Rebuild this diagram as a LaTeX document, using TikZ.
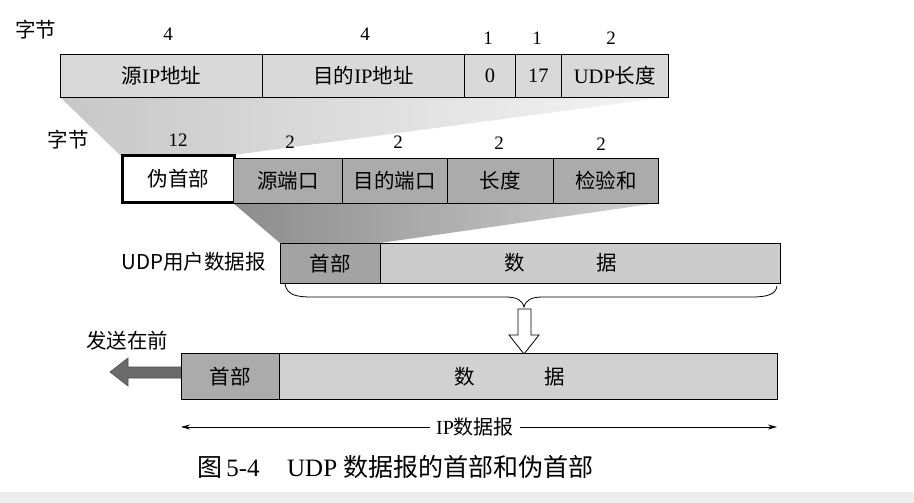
\documentclass[tikz,border=0pt]{standalone}
\usepackage{fontspec}
\setmainfont{Liberation Serif}
\newfontfamily\cjk{Noto Sans CJK SC}
\usetikzlibrary{arrows.meta}
\begin{document}
\begin{tikzpicture}[x=1pt,y=-1pt,
  field/.style={draw, line width=0.8pt, inner sep=0pt, anchor=north west,
    font=\fontsize{20.5}{23}\selectfont},
  lab/.style={inner sep=0pt, font=\fontsize{20.5}{23}\selectfont\cjk},
  num/.style={inner sep=0pt, font=\fontsize{19}{21}\selectfont},
  lite/.style={fill=black!15},
  mid/.style={fill=black!33},
]
\useasboundingbox (0,0) rectangle (914,503);
\fill[white] (0,0) rectangle (914,503);
\fill[black!7] (0,492) rectangle (914,503);

% expansion shadings
\shade[left color=black!22, right color=black!4] (60,97) -- (668,97) -- (233,155) -- (120,155) -- cycle;
\shade[left color=black!45, right color=black!18] (233,203) -- (658,203) -- (380,243) -- (280,243) -- cycle;

% row 1: pseudo header contents
\node[lab] (b1) at (36,30) {字节};
\node[num] (n1) at (168,34) {4};
\node[num] (n2) at (365,34) {4};
\node[num] (n3) at (488,38) {1};
\node[num] (n4) at (537,38) {1};
\node[num] (n5) at (611,38) {2};
\node[field, lite, minimum width=202, minimum height=43] (srcip) at (60,54) {{\cjk 源}IP{\cjk 地址}};
\node[field, lite, minimum width=202, minimum height=43] (dstip) at (262,54) {{\cjk 目的}IP{\cjk 地址}};
\node[field, lite, minimum width=51, minimum height=43] (zero) at (464,54) {0};
\node[field, lite, minimum width=46, minimum height=43] (proto) at (515,54) {17};
\node[field, lite, minimum width=107, minimum height=43] (udplen) at (561,54) {UDP{\cjk 长度}};

% row 2: UDP header with pseudo header
\node[lab] (b2) at (68,140) {字节};
\node[num] (m1) at (178,140) {12};
\node[num] (m2) at (290,142) {2};
\node[num] (m3) at (398,142) {2};
\node[num] (m4) at (499,143) {2};
\node[num] (m5) at (601,144) {2};
\node[field, fill=white, line width=2.6pt, minimum width=112, minimum height=47] (pseudo) at (121,154) {\cjk 伪首部};
\node[field, mid, minimum width=109, minimum height=45] (srcport) at (233,158) {\cjk 源端口};
\node[field, mid, minimum width=105, minimum height=45] (dstport) at (342,158) {\cjk 目的端口};
\node[field, mid, minimum width=106, minimum height=45] (len) at (447,158) {\cjk 长度};
\node[field, mid, minimum width=105, minimum height=45] (chk) at (553,158) {\cjk 检验和};

% row 3: UDP datagram
\node[lab, anchor=east] (udpname) at (266,262) {UDP用户数据报};
\node[field, fill=black!36, minimum width=100, minimum height=40] (uh) at (280,243) {\cjk 首部};
\node[field, fill=black!20, minimum width=400, minimum height=40] (ud) at (380,243) {};
\node[lab] (ud1) at (515,263) {数};
\node[lab] (ud2) at (607,263) {据};

% brace
\coordinate (bl) at (285,284);
\coordinate (br) at (777,286);
\coordinate (tip) at (524,307);
\draw[line width=0.8pt] (bl) .. controls (287,295) and (296,297) .. (312,297) -- (505,297)
  .. controls (517,297) and (522,300) .. (tip)
  .. controls (526,300) and (531,297) .. (543,297) -- (752,297)
  .. controls (768,297) and (776,294) .. (br);

% hollow arrow
\draw[fill=white, line width=0.8pt] (518,309) -- (531,309) -- (531,335) -- (539,335) -- (524,354)
  -- (509,335) -- (518,335) -- cycle;

% row 4: IP datagram
\node[lab] (send) at (127,341) {发送在前};
\node[field, fill=black!33, minimum width=98, minimum height=46] (ih) at (181,353) {\cjk 首部};
\node[field, fill=black!18, minimum width=498, minimum height=46] (id) at (279,353) {};
\node[lab] (id1) at (465,377) {数};
\node[lab] (id2) at (555,377) {据};
\draw[fill=black!58, draw=black!70, line width=0.6pt] (ih.west |- 0,367) -- (128,367) -- (128,358)
  -- (110,372) -- (128,386) -- (128,378) -- (ih.west |- 0,378);

% IP datagram span
\coordinate (ipl) at (181,427);
\coordinate (ipr) at (777,427);
\draw[{Stealth[length=9pt,width=5pt]}-{Stealth[length=9pt,width=5pt]}, line width=0.8pt] (ipl) -- (ipr);
\node[inner sep=6pt, fill=white, font=\fontsize{20}{23}\selectfont] (iplab) at (475,427) {IP{\cjk 数据报}};

% caption
\node[anchor=west, inner sep=0pt, font=\fontsize{25}{28}\selectfont] (cap) at (197,467)
  {{\cjk 图}\,5-4\hspace{1.1em}UDP {\cjk 数据报的首部和伪首部}};
\end{tikzpicture}
\end{document}
